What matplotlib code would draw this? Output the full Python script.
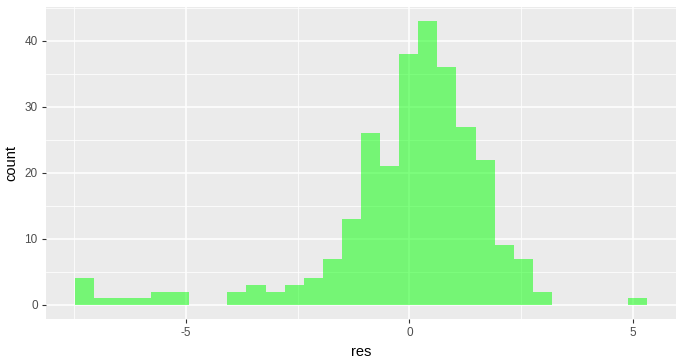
import numpy as np
import matplotlib.pyplot as plt

# histogram of residuals, 30 bins
bin_start = -7.486
bin_width = 0.4268
counts = [4, 1, 1, 1, 2, 2, 0, 0, 2, 3, 2, 3, 4, 7, 13,
          26, 21, 38, 43, 36, 27, 22, 9, 7, 2, 0, 0, 0, 0, 1]
x_ticks = [-5, 0, 5]
x_minor = [-7.5, -2.5, 2.5]
y_ticks = [0, 10, 20, 30, 40]
y_minor = [5, 15, 25, 35, 45]

plt.rcParams['font.family'] = ['Liberation Sans', 'DejaVu Sans']

edges = bin_start + bin_width * np.arange(len(counts) + 1)

fig = plt.figure(figsize=(6.84, 3.64), dpi=100)
ax = fig.add_axes([46/684, 45/364, 630/684, 312/364])
ax.set_facecolor('#EBEBEB')

ax.bar(edges[:-1], counts, width=bin_width, align='edge',
       color='#00FF00', alpha=0.5, linewidth=0, zorder=3)

# limits with ggplot style expansion
xr = edges[-1] - edges[0]
ax.set_xlim(edges[0] - 0.05 * xr, edges[-1] + 0.05 * xr)
ymax = max(counts)
ax.set_ylim(-0.05 * ymax, ymax * 1.05)

ax.set_xticks(x_ticks)
ax.set_xticklabels(['-5', '0', '5'])
ax.set_xticks(x_minor, minor=True)
ax.set_yticks(y_ticks)
ax.set_yticks(y_minor, minor=True)

ax.grid(which='major', color='white', linewidth=1.1, zorder=1)
ax.grid(which='minor', color='white', linewidth=0.55, zorder=1)
ax.set_axisbelow(True)

for s in ax.spines.values():
    s.set_visible(False)

ax.tick_params(which='major', length=3, width=0.8, color='#333333',
               labelcolor='#4D4D4D', labelsize=8.5, pad=3)
ax.tick_params(which='minor', length=0)

ax.set_xlabel('res', fontsize=10.5, color='black', labelpad=4)
ax.set_ylabel('count', fontsize=10.5, color='black', labelpad=4)

fig.savefig('out.png', dpi=100)
